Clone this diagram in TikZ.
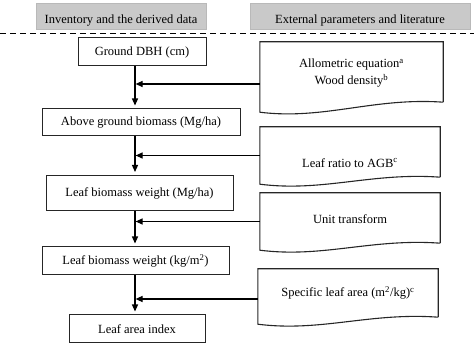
\documentclass[tikz,border=0pt]{standalone}
\usepackage{fontspec}
\setmainfont{Liberation Serif}
\usetikzlibrary{arrows.meta, calc}
\newcommand{\figfont}{\fontsize{12.5}{15}\selectfont}
% document shape with a wavy bottom edge; #2 = rise of the right corner
\newcommand{\wavedoc}[2]{%
  \draw[docline] ($(#1.south east)+(0,-#2)$) -- (#1.north east) -- (#1.north west) -- (#1.south west)
    .. controls ($(#1.south west)!0.35!(#1.south east)+(0,8)$)
    and ($(#1.south west)!0.62!(#1.south east)+(0,-#2-5)$) .. ($(#1.south east)+(0,-#2)$);}

\begin{document}
\begin{tikzpicture}[x=1pt, y=-1pt,
    head/.style={fill=gray!42, draw=gray!55, line width=0.6pt, inner sep=0pt,
                 text height=18pt, text depth=2pt, minimum height=26pt, font=\figfont},
    box/.style={draw=black!85, line width=1pt, inner sep=0pt, font=\figfont},
    docbox/.style={inner sep=0pt},
    docline/.style={draw=black!85, line width=1.1pt},
    txt/.style={align=center, font=\figfont},
    arr/.style={-{Triangle[length=7pt, width=6pt]}, line width=1.2pt}
]
\useasboundingbox (0,0) rectangle (474,347);

% headers
\node[head, minimum width=170pt] (inv) at (121,16) {Inventory and the derived data};
\node[head, minimum width=220pt] (ext) at (360,16) {External parameters and literature};
\draw[line width=1.8pt, dash pattern=on 6pt off 4pt] (0,33.5) -- (474,33.5);

% inventory chain
\coordinate (spine) at (135,0);
\node[box, minimum width=128pt, minimum height=28pt] (dbh) at (142,52) {Ground DBH (cm)};
\node[box, minimum width=198pt, minimum height=27pt] (agb) at (141,122.5) {Above ground biomass (Mg/ha)};
\node[box, minimum width=187pt, minimum height=35pt] (lbwmg) at (139.5,193) {Leaf biomass weight (Mg/ha)};
\node[box, minimum width=187pt, minimum height=28pt] (lbwkg) at (135.5,261) {Leaf biomass weight (kg/m\textsuperscript{2})};
\node[box, minimum width=136pt, minimum height=28pt] (lai) at (137,329) {Leaf area index};

\draw[arr, shorten >=3pt] (dbh.south -| spine) -- (agb.north -| spine);
\draw[arr, shorten >=3pt] (agb.south -| spine) -- (lbwmg.north -| spine);
\draw[arr, shorten >=3pt] (lbwmg.south -| spine) -- (lbwkg.north -| spine);
\draw[arr, shorten >=3pt] (lbwkg.south -| spine) -- (lai.north -| spine);

% external parameters
\node[docbox, minimum width=183pt, minimum height=70pt] (allo) at (351.5,77) {};
\node[docbox, minimum width=180pt, minimum height=57pt] (ratio) at (350,155.5) {};
\node[docbox, minimum width=180pt, minimum height=57pt] (unit) at (350,221.5) {};
\node[docbox, minimum width=180pt, minimum height=55pt] (sla) at (348,296.5) {};
\wavedoc{allo}{10}
\wavedoc{ratio}{7}
\wavedoc{unit}{7}
\wavedoc{sla}{7}

\node[txt] (allotxt) at ([yshift=4pt]allo) {Allometric equation\textsuperscript{a}\\[2pt]Wood density\textsuperscript{b}};
\node[txt] (ratiotxt) at ([yshift=-7.5pt]ratio) {Leaf ratio to AGB\textsuperscript{c}};
\node[txt] (unittxt) at ([yshift=2.5pt]unit) {Unit transform};
\node[txt] (slatxt) at ([yshift=3.5pt]sla) {Specific leaf area (m\textsuperscript{2}/kg)\textsuperscript{c}};

\coordinate (allo-in) at ([yshift=-7pt]allo.west);
\coordinate (sla-in) at ([yshift=-2.5pt]sla.west);
\draw[arr, shorten >=0.6pt] (allo-in) -- (allo-in -| spine);
\draw[arr, shorten >=0.6pt] (ratio.west) -- (ratio.west -| spine);
\draw[arr, shorten >=0.6pt] (unit.west) -- (unit.west -| spine);
\draw[arr, shorten >=0.6pt] (sla-in) -- (sla-in -| spine);
\end{tikzpicture}
\end{document}
